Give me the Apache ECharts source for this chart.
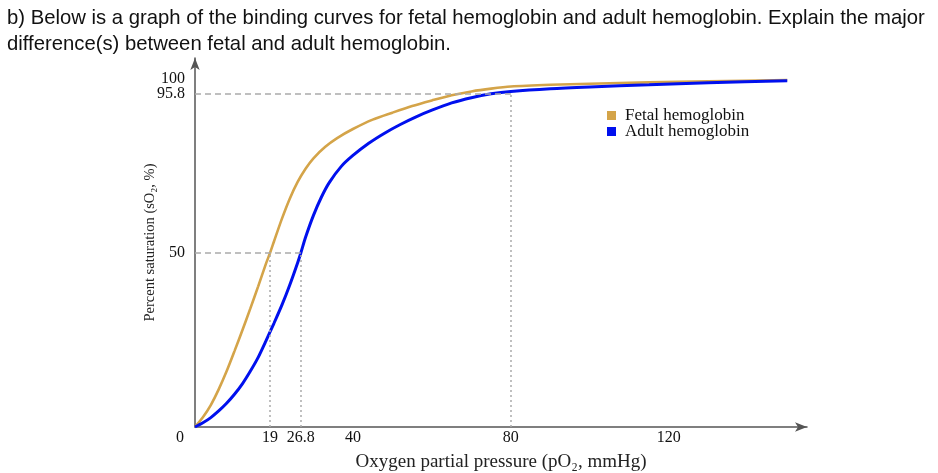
<!DOCTYPE html>
<html>
<head>
<meta charset="utf-8">
<script src="https://cdn.jsdelivr.net/npm/echarts@6/dist/echarts.min.js"></script>
<style>
html,body{margin:0;padding:0;background:#fff;}
#chart{width:938px;height:473px;}
</style>
</head>
<body>
<div id="chart"></div>
<script>
// ---- data ----
const titleLines = [
  "b) Below is a graph of the binding curves for fetal hemoglobin and adult hemoglobin. Explain the major",
  "difference(s) between fetal and adult hemoglobin."
];
const seriesNames = ["Fetal hemoglobin", "Adult hemoglobin"];
const xTickValues = [0, 19, 26.8, 40, 80, 120];
const yTickValues = [50, 95.8];
const yTopTick = [100];
const fetalPO2 = [0, 2, 4, 6, 8, 10, 12, 14, 16, 18, 19, 20, 22, 24, 26, 28, 30, 33, 36, 40, 45, 50, 55, 60, 65, 70, 75, 80, 90, 100, 115, 130, 150];
const fetalSat = [0, 2.8, 6.3, 10.8, 16, 21.8, 27.8, 34, 40.4, 47, 50, 53.3, 59.8, 65.6, 70.4, 74.2, 77.2, 80.5, 83, 85.6, 88.3, 90.3, 92.2, 93.8, 95.3, 96.4, 97.2, 97.8, 98.3, 98.6, 99, 99.3, 99.7];
const adultPO2 = [0, 2, 4, 6, 8, 10, 12, 14, 16, 18, 20, 22, 24, 26, 26.8, 28, 30, 32, 34, 37, 40, 44, 48, 52, 56, 60, 65, 70, 75, 80, 90, 100, 115, 130, 150];
const adultSat = [0, 1.2, 2.7, 4.6, 6.8, 9.4, 12.4, 16, 20, 24.8, 29.8, 35, 40.8, 47.2, 50, 54.5, 60.8, 66, 70.2, 74.8, 78, 81.5, 84.4, 86.9, 89.1, 91, 93.1, 94.6, 95.7, 96.4, 97.2, 97.7, 98.3, 98.9, 99.5];
// reference guides: [x1, y1, x2, y2]
const dashedGuides = [[0, 95.8, 80, 95.8], [0, 50, 26.8, 50]];
const dottedGuides = [[80, 0, 80, 95.8], [19, 0, 19, 50], [26.8, 0, 26.8, 50]];
const xName = "Oxygen partial pressure (pO\u2082, mmHg)";
const yName = "Percent saturation (sO\u2082, %)";

const serif = "'Liberation Serif', 'DejaVu Serif', serif";
const zip = (xs, ys) => xs.map((x, i) => [x, ys[i]]);
const toLines = (arr) => arr.map(g => [{coord: [g[0], g[1]]}, {coord: [g[2], g[3]]}]);

const yBase = {
  type: 'value', min: 0, max: 106, position: 'left',
  axisTick: {show: false}, splitLine: {show: false}
};

const chart = echarts.init(document.getElementById('chart'), null, {renderer: 'canvas'});
chart.setOption({
  animation: false,
  backgroundColor: '#fff',
  title: {
    text: titleLines.join('\n'),
    left: 2, top: 1,
    textStyle: {fontFamily: "'Liberation Sans', Arial, sans-serif", fontSize: 20.3, fontWeight: 'normal', color: '#111', lineHeight: 25.5}
  },
  legend: {
    orient: 'vertical', left: 602, top: 102,
    itemWidth: 9, itemHeight: 9, itemGap: -1, icon: 'rect',
    textStyle: {fontFamily: serif, fontSize: 17, color: '#111', padding: [0, 0, 0, 4]},
    data: seriesNames
  },
  grid: {left: 195, top: 58, width: 612, height: 369, containLabel: false, outerBoundsMode: 'none'},
  xAxis: {
    type: 'value', min: 0, max: 155,
    name: xName, nameLocation: 'middle', nameGap: 26, nameMoveOverlap: false,
    nameTextStyle: {fontFamily: serif, fontSize: 19, color: '#222'},
    axisLine: {show: true, symbol: ['none', 'arrow'], symbolSize: [7, 12], lineStyle: {color: '#555', width: 1.5}},
    axisTick: {show: false},
    splitLine: {show: false},
    axisLabel: {
      customValues: xTickValues, margin: 3,
      fontFamily: serif, fontSize: 16, color: '#111',
      formatter: v => v === 0 ? '{z|0}' : String(v),
      rich: {z: {fontFamily: serif, fontSize: 16, color: '#111', padding: [0, 30, 0, 0]}}
    }
  },
  yAxis: [
    Object.assign({}, yBase, {
      name: yName, nameLocation: 'middle', nameGap: 37, nameRotate: 90, nameMoveOverlap: false,
      nameTextStyle: {fontFamily: serif, fontSize: 14.5, color: '#222'},
      axisLine: {show: true, symbol: ['none', 'arrow'], symbolSize: [7, 12], lineStyle: {color: '#555', width: 1.5}},
      axisLabel: {customValues: yTickValues, margin: 10, fontFamily: serif, fontSize: 16, color: '#111', hideOverlap: false}
    }),
    Object.assign({}, yBase, {
      axisLine: {show: false},
      axisLabel: {customValues: yTopTick, margin: 10, fontFamily: serif, fontSize: 16, color: '#111', hideOverlap: false}
    })
  ],
  series: [
    {
      name: 'guides', type: 'line', data: [], silent: true, z: 1,
      markLine: {
        silent: true, symbol: ['none', 'none'], label: {show: false}, animation: false,
        data: toLines(dashedGuides),
        lineStyle: {color: '#aaa', width: 1.5, type: [6, 4]}
      }
    },
    {
      name: 'guides2', type: 'line', data: [], silent: true, z: 1,
      markLine: {
        silent: true, symbol: ['none', 'none'], label: {show: false}, animation: false,
        data: toLines(dottedGuides),
        lineStyle: {color: '#aaa', width: 1.5, type: [2, 3]}
      }
    },
    {
      name: seriesNames[0], type: 'line', data: zip(fetalPO2, fetalSat), z: 3,
      smooth: 0.25, showSymbol: false, symbol: 'none',
      itemStyle: {color: '#D4A449'},
      lineStyle: {color: '#D4A449', width: 2.6}
    },
    {
      name: seriesNames[1], type: 'line', data: zip(adultPO2, adultSat), z: 4,
      smooth: 0.25, showSymbol: false, symbol: 'none',
      itemStyle: {color: '#0010EE'},
      lineStyle: {color: '#0010EE', width: 3}
    }
  ]
});
</script>
</body>
</html>
